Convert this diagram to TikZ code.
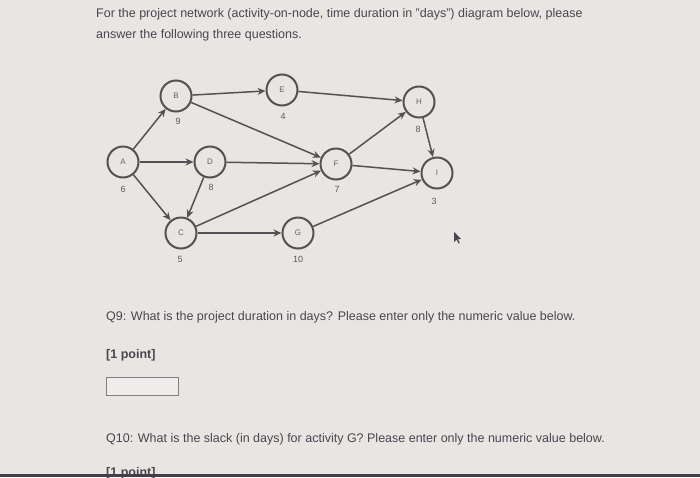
\documentclass[tikz,border=0pt]{standalone}
\usepackage{fontspec}
\setmainfont{Liberation Sans}
\usetikzlibrary{arrows.meta}
\definecolor{bg}{HTML}{E8E6E3}
\definecolor{ink}{HTML}{4A4550}
\definecolor{edge}{HTML}{535153}
\begin{document}
\begin{tikzpicture}[x=1pt,y=-1pt,
  act/.style={circle,draw=edge,line width=2pt,minimum size=31pt,inner sep=0pt,font=\fontsize{8}{9}\selectfont,text=ink!85},
  dur/.style={font=\fontsize{9}{10}\selectfont,text=ink!90},
  arr/.style={draw=edge,line width=1.5pt,-{Stealth[length=8pt,width=7pt]}},
  txt/.style={anchor=base west,inner sep=0pt,font=\fontsize{12.5}{14}\selectfont,text=ink}]
\fill[bg] (0,0) rectangle (700,477);
\useasboundingbox (0,0) rectangle (700,477);
% texts
\node[txt] (t1) at (96,17) {For the project network (activity-on-node, time duration in "days") diagram below, please};
\node[txt] (t2) at (96,38) {answer the following three questions.};
\node[txt] (q9) at (106,320) {Q9: What is the project duration in days? Please enter only the numeric value below.};
\node[txt] (p9) at (106,358) {\bfseries [1 point]};
\node[draw=ink!70,line width=0.8pt,fill=bg!70!white,minimum width=72pt,minimum height=18pt,inner sep=0pt,anchor=north west] (box) at (106,377) {};
\node[txt] (q10) at (106,442) {Q10: What is the slack (in days) for activity G? Please enter only the numeric value below.};
\node[txt] (p10) at (106,476) {\bfseries [1 point]};
\fill[ink!90!black] (0,474) rectangle (700,477);
% activities
\node[act] (A) at (123,162) {A};
\node[act] (B) at (176,96) {B};
\node[act] (C) at (181,233) {C};
\node[act] (D) at (210,162) {D};
\node[act] (E) at (282,90) {E};
\node[act] (F) at (336,164) {F};
\node[act] (G) at (298,233) {G};
\node[act] (H) at (419,102) {H};
\node[act] (I) at (437,173) {I};
% durations
\node[dur] (dA) at (123,189) {6};
\node[dur] (dB) at (178,121) {9};
\node[dur] (dC) at (180,259) {5};
\node[dur] (dD) at (211,187) {8};
\node[dur] (dE) at (283,116) {4};
\node[dur] (dF) at (337,189) {7};
\node[dur] (dG) at (298,259) {10};
\node[dur] (dH) at (418,129) {8};
\node[dur] (dI) at (434,201) {3};
% connectors
\draw[arr] (A) -- (B);
\draw[arr] (A) -- (D);
\draw[arr] (A) -- (C);
\draw[arr] (D) -- (C);
\draw[arr] (B) -- (E);
\draw[arr] (B) -- (F);
\draw[arr] (D) -- (F);
\draw[arr] (C) -- (F);
\draw[arr] (C) -- (G);
\draw[arr] (E) -- (H);
\draw[arr] (F) -- (H);
\draw[arr] (F) -- (I);
\draw[arr] (H) -- (I);
\draw[arr] (G) -- (I);
% mouse pointer
\fill[ink] (454,232) -- (454,242) -- (456.5,239.5) -- (458.5,243.5) -- (459.7,242.9) -- (457.8,239) -- (461,239) -- cycle;
\end{tikzpicture}
\end{document}
